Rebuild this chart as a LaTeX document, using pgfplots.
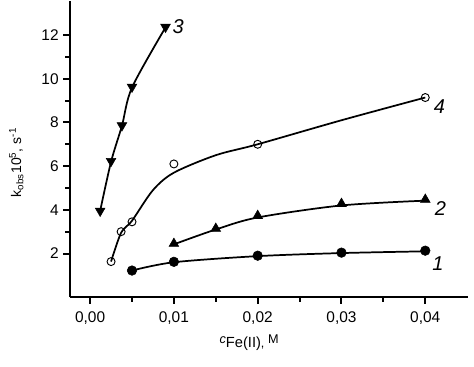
\documentclass[border=0pt]{standalone}
\usepackage{pgfplots}
\pgfplotsset{compat=1.18}
\usetikzlibrary{calc}
\usepackage{fontspec}
\setmainfont{Liberation Sans}
\begin{document}
\begin{tikzpicture}
\begin{axis}[
  scale only axis,
  width=298.5pt, height=222pt,
  xmin=-0.0024, xmax=0.0451,
  ymin=0, ymax=13.55,
  axis x line*=bottom, axis y line*=left,
  axis line style={line width=1.8pt},
  xtick={0,0.01,0.02,0.03,0.04},
  xticklabels={{0,00},{0,01},{0,02},{0,03},{0,04}},
  scaled x ticks=false,
  ytick={2,4,6,8,10,12},
  minor x tick num=1, minor y tick num=1,
  tick align=outside,
  major tick length=5pt, minor tick length=3.5pt,
  tick style={line width=1.5pt, black},
  ticklabel style={font=\fontsize{11.6}{13}\selectfont},
  xticklabel style={yshift=-2.5pt},
  /pgf/number format/assume math mode=true,
  xlabel style={at={(axis description cs:0.45,0)}, anchor=north, yshift=-25pt},
  xlabel={\fontsize{9.5}{11}\selectfont\raisebox{3pt}{\itshape c}\fontsize{11}{12}\selectfont Fe(II)\fontsize{9.5}{11}\selectfont, \raisebox{3pt}{M}},
  ylabel style={at={(axis description cs:-0.105,0.455)}, anchor=south, rotate=0},
  ylabel={\fontsize{10.5}{12}\selectfont k\textsubscript{obs}10\textsuperscript{5}, s\textsuperscript{-1}},
  clip=false,
]
% series 1 (filled circles)
\addplot[black, line width=1.3pt, smooth] coordinates {(0.005,1.22) (0.01,1.6) (0.02,1.88) (0.03,2.02) (0.04,2.1)};
\addplot[only marks, mark=*, mark size=3.6pt, black] coordinates {(0.005,1.22) (0.01,1.62) (0.02,1.9) (0.03,2.04) (0.04,2.13)};
% series 2 (filled triangles)
\addplot[black, line width=1.3pt, smooth] coordinates {(0.01,2.42) (0.015,3.1) (0.02,3.65) (0.03,4.2) (0.04,4.42)};
\addplot[only marks, mark=triangle*, mark size=4.2pt, black] coordinates {(0.01,2.45) (0.015,3.14) (0.02,3.73) (0.03,4.28) (0.04,4.47)};
% series 3 (filled down triangles)
\addplot[black, line width=1.3pt, smooth] coordinates {(0.0012,3.95) (0.0025,6.2) (0.0038,7.85) (0.005,9.6) (0.009,12.35)};
\addplot[only marks, mark=triangle*, mark options={rotate=180}, mark size=4.2pt, black] coordinates {(0.0012,3.95) (0.0025,6.23) (0.0038,7.86) (0.005,9.63) (0.009,12.37)};
% series 4 (open circles)
\addplot[black, line width=1.3pt, smooth] coordinates {(0.0025,1.63) (0.0037,2.95) (0.005,3.5) (0.0075,4.9) (0.01,5.7) (0.015,6.5) (0.02,7.0) (0.03,8.1) (0.04,9.14)};
\addplot[only marks, mark=o, mark size=3pt, mark options={fill=white, line width=0.7pt}, black] coordinates {(0.0025,1.63) (0.0037,3.0) (0.005,3.45) (0.01,6.1) (0.02,7.0) (0.04,9.14)};
% labels
\node[font=\fontsize{15}{16}\selectfont\itshape] at (axis cs:0.0105,12.37) {3};
\node[font=\fontsize{15}{16}\selectfont\itshape] at (axis cs:0.0417,8.73) {4};
\node[font=\fontsize{15}{16}\selectfont\itshape] at (axis cs:0.0418,4.05) {2};
\node[font=\fontsize{15}{16}\selectfont\itshape] at (axis cs:0.0415,1.54) {1};
\coordinate (SW) at (rel axis cs:0,0);
\coordinate (NE) at (rel axis cs:1,1);
\end{axis}
\path[use as bounding box] ($(SW)+(-52.5pt,-51.75pt)$) rectangle ($(NE)+(4.5pt,0pt)$);
\end{tikzpicture}
\end{document}
